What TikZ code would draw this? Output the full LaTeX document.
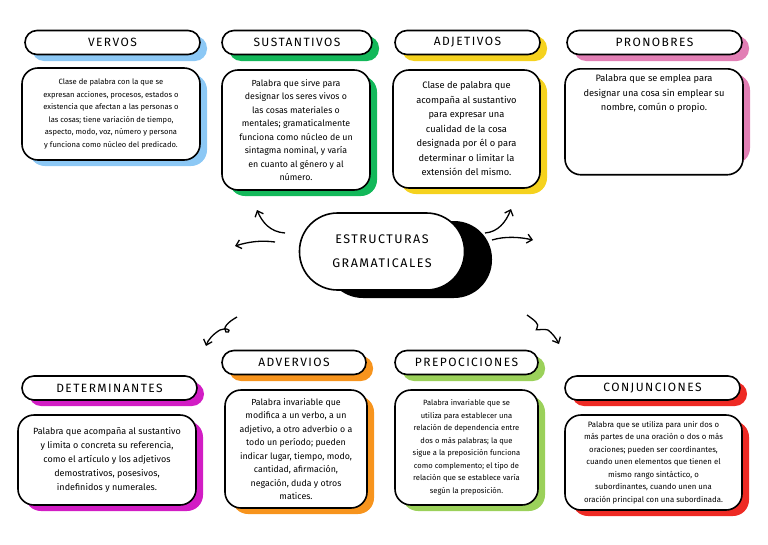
\documentclass[tikz,border=0pt]{standalone}
\usepackage{fontspec}
\setmainfont{Fira Sans}
\usetikzlibrary{arrows.meta}
\definecolor{cblue}{HTML}{8CC8F5}
\definecolor{cgreen}{HTML}{13B85A}
\definecolor{cyellow}{HTML}{F5D21E}
\definecolor{cpink}{HTML}{E27FB5}
\definecolor{cmag}{HTML}{D21DC4}
\definecolor{corange}{HTML}{F7941D}
\definecolor{clgreen}{HTML}{9BD15A}
\definecolor{cred}{HTML}{EE2A24}
\tikzset{
 ttl/.style={draw=black,line width=1.6pt,fill=white,rounded corners=12pt,minimum height=24pt,font=\fontsize{12}{14}\selectfont\addfontfeature{LetterSpace=12}},
 bx/.style={draw=black,line width=1.6pt,fill=white,rounded corners=16pt,align=center,font=\fontsize{8.8}{13.5}\selectfont,inner sep=2pt},
 arr/.style={-{Straight Barb[length=5pt,width=9pt]},line width=1.3pt}
}
\newcommand{\shadowed}[7]{%
 \fill[#2,rounded corners=#7] (#3+7,#4+6) rectangle (#5+7,#6+6);}
\begin{document}
\begin{tikzpicture}[x=1pt,y=-1pt]
\useasboundingbox (0,0) rectangle (768,544);
\shadowed{}{cblue}{25}{30}{200}{55}{12pt}
\shadowed{}{cgreen}{222}{30}{372}{55}{12pt}
\shadowed{}{cyellow}{395}{30}{540}{55}{12pt}
\shadowed{}{cpink}{567}{30}{742}{55}{12pt}
\shadowed{}{cblue}{22}{68}{200}{160}{16pt}
\shadowed{}{cgreen}{222}{70}{370}{190}{16pt}
\shadowed{}{cyellow}{393}{70}{540}{188}{16pt}
\shadowed{}{cpink}{565}{68}{743}{158}{16pt}
\shadowed{}{cmag}{22}{376}{197}{400}{12pt}
\shadowed{}{corange}{222}{350}{366}{375}{12pt}
\shadowed{}{clgreen}{395}{350}{538}{375}{12pt}
\shadowed{}{cred}{565}{376}{740}{400}{12pt}
\shadowed{}{cmag}{18}{415}{196}{505}{16pt}
\shadowed{}{corange}{225}{390}{367}{508}{16pt}
\shadowed{}{clgreen}{395}{390}{538}{505}{16pt}
\shadowed{}{cred}{565}{415}{742}{510}{16pt}
\node[ttl,minimum width=175pt] (t1) at (112.5,42.5) {VERVOS};
\node[ttl,minimum width=150pt] (t2) at (297,42.5) {SUSTANTIVOS};
\node[ttl,minimum width=145pt] (t3) at (467.5,42.5) {ADJETIVOS};
\node[ttl,minimum width=175pt] (t4) at (654.5,42.5) {PRONOBRES};
\node[ttl,minimum width=175pt] (t5) at (109.5,388) {DETERMINANTES};
\node[ttl,minimum width=144pt] (t6) at (294,362.5) {ADVERVIOS};
\node[ttl,minimum width=143pt] (t7) at (466.5,362.5) {PREPOCICIONES};
\node[ttl,minimum width=175pt] (t8) at (652.5,388) {CONJUNCIONES};
\node[bx,minimum width=178pt,minimum height=92pt,font=\fontsize{7.6}{12.5}\selectfont] (b1) at (111,114) {Clase de palabra con la que se\\expresan acciones, procesos, estados o\\existencia que afectan a las personas o\\las cosas; tiene variación de tiempo,\\aspecto, modo, voz, número y persona\\y funciona como núcleo del predicado.};
\node[bx,minimum width=148pt,minimum height=120pt] (b2) at (296,130) {Palabra que sirve para\\designar los seres vivos o\\las cosas materiales o\\mentales; gramaticalmente\\funciona como núcleo de un\\sintagma nominal, y varía\\en cuanto al género y al\\número.};
\node[bx,minimum width=147pt,minimum height=118pt,font=\fontsize{9.3}{14.5}\selectfont] (b3) at (466.5,129) {Clase de palabra que\\acompaña al sustantivo\\para expresar una\\cualidad de la cosa\\designada por él o para\\determinar o limitar la\\extensión del mismo.};
\node[bx,minimum width=178pt,minimum height=90pt,anchor=north,text depth=58pt,inner sep=6pt,font=\fontsize{9.3}{14.5}\selectfont] (b4) at (654,68) {Palabra que se emplea para\\designar una cosa sin emplear su\\nombre, común o propio.};
\node[bx,minimum width=178pt,minimum height=90pt,font=\fontsize{9}{14}\selectfont] (b5) at (107,460) {Palabra que acompaña al sustantivo\\y limita o concreta su referencia,\\como el artículo y los adjetivos\\demostrativos, posesivos,\\indefinidos y numerales.};
\node[bx,minimum width=142pt,minimum height=118pt] (b6) at (296,449) {Palabra invariable que\\modifica a un verbo, a un\\adjetivo, a otro adverbio o a\\todo un período; pueden\\indicar lugar, tiempo, modo,\\cantidad, afirmación,\\negación, duda y otros\\matices.};
\node[bx,minimum width=143pt,minimum height=115pt,font=\fontsize{7.6}{12.5}\selectfont] (b7) at (466.5,447.5) {Palabra invariable que se\\utiliza para establecer una\\relación de dependencia entre\\dos o más palabras; la que\\sigue a la preposición funciona\\como complemento; el tipo de\\relación que se establece varía\\según la preposición.};
\node[bx,minimum width=177pt,minimum height=95pt,font=\fontsize{7.8}{12.5}\selectfont,inner sep=1pt] (b8) at (653.5,462.5) {Palabra que se utiliza para unir dos o\\más partes de una oración o dos o más\\oraciones; pueden ser coordinantes,\\cuando unen elementos que tienen el\\mismo rango sintáctico, o\\subordinantes, cuando unen una\\oración principal con una subordinada.};
\fill[black,rounded corners=38pt] (325,221) rectangle (492,298);
\node[draw=black,line width=1.6pt,fill=white,rounded corners=38pt,minimum width=165pt,minimum height=77pt,align=center,font=\fontsize{12.5}{24}\selectfont\addfontfeature{LetterSpace=12}] (c) at (382,251.5) {ESTRUCTURAS\\GRAMATICALES};
\coordinate (a1) at (285,233);
\coordinate (a2) at (275,242);
\coordinate (a3) at (485,233);
\coordinate (a4) at (492,240);
\coordinate (a5) at (237,317);
\coordinate (a6) at (527,315);
\draw[arr] (a1) .. controls (270,232) and (262,222) .. (257,210);
\draw[arr] (a2) .. controls (260,240) and (248,242) .. (235,246);
\draw[arr] (a3) .. controls (498,232) and (506,222) .. (511,209);
\draw[arr] (a4) .. controls (505,236) and (520,237) .. (533,240);
\draw[arr] (a5) .. controls (228,322) and (222,328) .. (226,332) .. controls (230,334) and (232,326) .. (220,330) .. controls (213,334) and (208,340) .. (206,346);
\draw[arr] (a6) .. controls (534,320) and (540,324) .. (537,328) .. controls (534,332) and (540,328) .. (548,330) .. controls (552,333) and (556,338) .. (559,344);
\end{tikzpicture}
\end{document}
